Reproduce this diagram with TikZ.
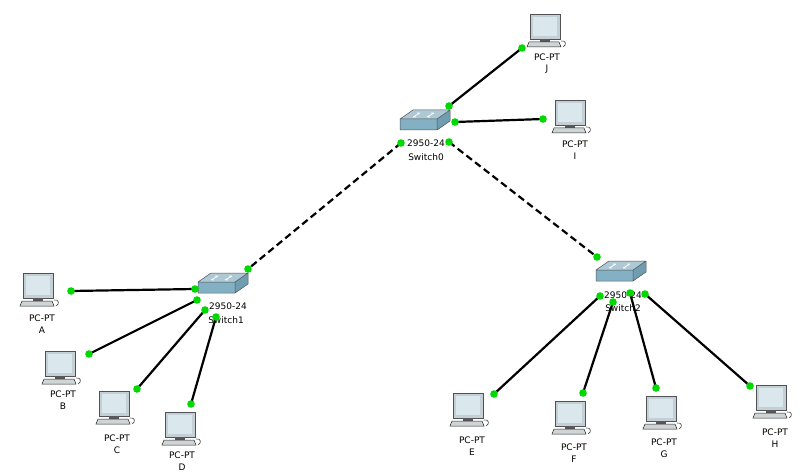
\documentclass[tikz,border=0pt]{standalone}
\usepackage{fontspec}
\setmainfont{DejaVu Sans}
\begin{document}
\begin{tikzpicture}[x=1pt,y=-1pt,
  lbl/.style={font=\fontsize{9}{10}\selectfont,inner sep=0pt},
  link/.style={line width=2.2pt,black},
  dlink/.style={line width=2.2pt,black,dash pattern=on 7pt off 4pt},
  dot/.style={fill=green!85!black,draw=none},
  pc/.pic={
    \fill[cyan!20!gray!45] (-15,-17) rectangle (15,8);
    \draw[cyan!20!gray!40!black,line width=0.6pt] (-15,-17) rectangle (15,8);
    \fill[cyan!10!white!85!gray] (-12,-14) rectangle (12,5);
    \fill[gray!70!black] (-5,8) rectangle (5,11);
    \fill[cyan!10!gray!40] (-16,11) -- (14,11) -- (16,16) -- (-18,16) -- cycle;
    \draw[gray!30!black,line width=0.5pt] (-16,11) -- (14,11) -- (16,16) -- (-18,16) -- cycle;
    \draw[gray!50!black,line width=0.6pt] (16,10) .. controls (21,9) and (22,14) .. (18,16);
  },
  sw/.pic={
    \fill[cyan!35!gray!55] (-25,-3) -- (-12,-12) -- (25,-12) -- (12,-3) -- cycle;
    \fill[cyan!40!gray!85] (-25,-3) rectangle (12,8);
    \fill[cyan!40!gray!95!black] (12,-3) -- (25,-12) -- (25,-1) -- (12,8) -- cycle;
    \draw[cyan!20!gray!40!black,line width=0.5pt] (-25,-3) -- (-12,-12) -- (25,-12) -- (25,-1) -- (12,8) -- (-25,8) -- cycle (-25,-3) -- (12,-3) -- (25,-12) (12,-3) -- (12,8);
    \draw[white,line width=0.7pt] (-12,-5) -- (-5,-9) (2,-5) -- (9,-9) (-5,-9)--(-8,-9) (9,-9)--(6,-9) (-12,-5)--(-9,-5) (2,-5)--(5,-5);
  }]
\useasboundingbox (0,0) rectangle (810,473);
% switches
\pic at (425,122) {sw}; \node[coordinate] (s0) at (425,122) {};
\node[lbl] (s0a) at (426,143) {2950-24}; \node[lbl] (s0b) at (426,157) {Switch0};
\pic at (223,285) {sw}; \node[coordinate] (s1) at (223,285) {};
\node[lbl] (s1a) at (228,306) {2950-24}; \node[lbl] (s1b) at (226,320) {Switch1};
\pic at (621,273) {sw}; \node[coordinate] (s2) at (621,273) {};
\node[lbl] (s2a) at (623,295) {2950-24}; \node[lbl] (s2b) at (623,308) {Switch2};
% PCs
\foreach \n/\x/\y/\lx/\ly in {J/545/31/547/57, I/570/117/575/144, A/38/290/42/318, B/60/368/63/394, C/114/408/117/438, D/180/429/182/455, E/468/410/472/440, F/570/418/574/447, G/661/413/664/442, H/771/402/775/432}{
  \pic at (\x,\y) {pc};
  \node[lbl] (pc\n) at (\lx,\ly) {PC-PT};
  \node[lbl] (n\n) at (\lx,\ly+12) {\n};
}
% link endpoints
\foreach \n/\x/\y in {j0/449/106, j1/522/48, i0/455/122, i1/543/119,
  a0/71/291, a1/195/289, b0/89/354, b1/197/300, c0/137/389, c1/205/310, d0/191/404, d1/216/317,
  e0/494/394, e1/600/296, f0/583/393, f1/613/302, g0/656/388, g1/630/293, h0/750/386, h1/645/294,
  x0/401/143, x1/248/269, y0/449/142, y1/597/257}
  \coordinate (\n) at (\x,\y);
\foreach \a/\b in {j0/j1,i0/i1,a0/a1,b0/b1,c0/c1,d0/d1,e0/e1,f0/f1,g0/g1,h0/h1}
  \draw[link] (\a) -- (\b);
\draw[dlink] (x0) -- (x1);
\draw[dlink] (y0) -- (y1);
\foreach \n in {j0,j1,i0,i1,a0,a1,b0,b1,c0,c1,d0,d1,e0,e1,f0,f1,g0,g1,h0,h1,x0,x1,y0,y1}
  \fill[dot] (\n) circle (3.8);
\end{tikzpicture}
\end{document}
